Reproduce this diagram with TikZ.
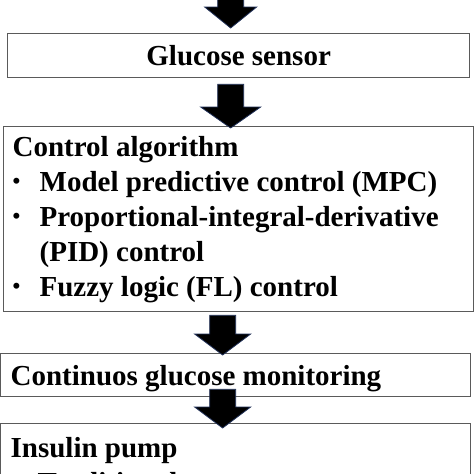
\documentclass[tikz,border=0pt]{standalone}
\usepackage{fontspec}
\setmainfont{Liberation Serif}
\usepackage{tikz}
\usetikzlibrary{calc,positioning}

\definecolor{boxline}{HTML}{5A5A5A}
\definecolor{arrowedge}{HTML}{1F2F57}

\newcommand{\bul}{\makebox[27pt][l]{\raisebox{2.5pt}{\fontsize{22}{22}\selectfont\textbullet}}}
\newcommand{\normalspaces}{\spaceskip=0pt\xspaceskip=0pt\relax}

\tikzset{
  box/.style={draw=boxline, line width=1.3pt, rectangle, anchor=north west,
    font=\fontsize{29}{35}\selectfont\bfseries},
  flowarrow/.style={fill=black, draw=arrowedge, line width=0.8pt, line join=miter,
    to path={let \p1=(\tikztostart), \p2=(\tikztotarget) in
      (\x1-13pt,\y1) -- (\x1+13pt,\y1) -- (\x1+13pt,\y2+21pt) -- (\x1+#1,\y2+21pt)
      -- (\x2,\y2) -- (\x1-#1,\y2+21pt) -- (\x1-13pt,\y2+21pt) -- cycle}},
  flowarrow/.default=30pt
}

\begin{document}
\begin{tikzpicture}[x=1pt,y=-1pt]
\useasboundingbox (0,0) rectangle (474,474);
\clip (0,0) rectangle (474,474);

\node[box, minimum width=462pt, minimum height=44pt] (sensor) at (7,33) {Glucose sensor};
\node[box, inner xsep=9pt, text width=452pt, minimum height=185pt, align=left] (ctrl) at (3,126)
  {\normalspaces Control algorithm\\
   \bul Model predictive control (MPC)\\
   \bul Proportional-integral-derivative\\
   \hspace*{27pt}(PID) control\\
   \bul Fuzzy logic (FL) control};
\node[box, inner xsep=10pt, text width=450pt, text height=20pt, text depth=0pt,
  minimum height=43pt, align=left] (cgm) at (0,353)
  {\normalspaces Continuos glucose monitoring};
\node[box, inner xsep=10pt, inner ysep=14pt, text width=450pt, align=left] (pump) at (0,423)
  {\normalspaces Insulin pump\\
   \bul Traditional};

\coordinate (feed) at ([xshift=-8pt,yshift=40pt]sensor.north);
\draw[flowarrow=26pt] (feed) to ([xshift=-8pt,yshift=5pt]sensor.north);
\draw[flowarrow] ([xshift=-8pt,yshift=-6pt]sensor.south) to ([xshift=-8pt,yshift=-2pt]ctrl.north);
\draw[flowarrow=28pt] ([xshift=-16pt,yshift=-3pt]ctrl.south) to ([xshift=-13pt,yshift=-2pt]cgm.north);
\draw[flowarrow=28pt] ([xshift=-13pt,yshift=8pt]cgm.south) to ([xshift=-13pt,yshift=-5pt]pump.north);
\end{tikzpicture}
\end{document}
